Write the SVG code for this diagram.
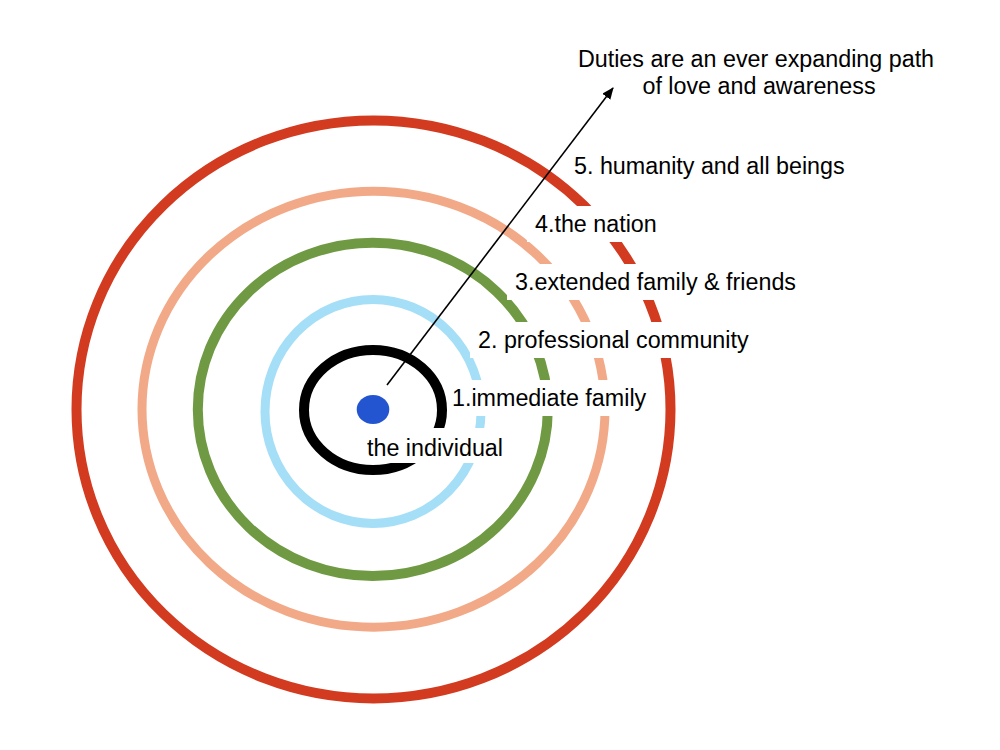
<svg xmlns="http://www.w3.org/2000/svg" width="1000" height="750" viewBox="0 0 1000 750">
<style>
.ring{fill:none}
.lbl{font-family:"Liberation Sans",Arial,Helvetica,sans-serif;font-size:23.3px;fill:#000}
.bg{fill:#fff}
</style>
<defs>
<marker id="ah" viewBox="0 0 12 10" refX="11" refY="5" markerWidth="12" markerHeight="10" markerUnits="userSpaceOnUse" orient="auto">
<path d="M0,0 L12,5 L0,10 z" fill="#000"/>
</marker>
</defs>
<rect width="1000" height="750" fill="#fff"/>
<g id="ring5"><ellipse class="ring" cx="373.5" cy="409.4" rx="297" ry="289" stroke="#D23B20" stroke-width="10"/></g>
<g id="ring4"><ellipse class="ring" cx="373.5" cy="409.2" rx="231.5" ry="218" stroke="#F2A987" stroke-width="9"/></g>
<g id="ring3"><ellipse class="ring" cx="372.8" cy="409.4" rx="175" ry="166.7" stroke="#6F9A43" stroke-width="10"/></g>
<g id="ring2"><ellipse class="ring" cx="373" cy="411.4" rx="108" ry="112" stroke="#A5DEF7" stroke-width="9"/></g>
<g id="ring1"><ellipse class="ring" cx="373" cy="410" rx="69" ry="60" stroke="#000" stroke-width="10"/></g>
<g id="individual"><ellipse cx="373" cy="409.5" rx="16.3" ry="14.5" fill="#2355D0"/></g>
<g id="connectors">
<line x1="387" y1="385" x2="613" y2="88" stroke="#000" stroke-width="1.6" marker-end="url(#ah)"/>
</g>
<g id="label-individual"><rect class="bg" x="357" y="428" width="155" height="35"/><text class="lbl" x="367" y="456">the individual</text></g>
<g id="label-1"><rect class="bg" x="448" y="380" width="205" height="36"/><text class="lbl" x="452" y="406">1.immediate family</text></g>
<g id="label-2"><rect class="bg" x="470" y="322" width="287" height="36"/><text class="lbl" x="478" y="348">2. professional community</text></g>
<g id="label-3"><rect class="bg" x="507" y="264" width="297" height="36"/><text class="lbl" x="515" y="290">3.extended family &amp; friends</text></g>
<g id="label-4"><rect class="bg" x="527" y="206" width="138" height="36"/><text class="lbl" x="535" y="232">4.the nation</text></g>
<g id="label-5"><rect class="bg" x="570" y="148" width="283" height="36"/><text class="lbl" x="574" y="174">5. humanity and all beings</text></g>
<g id="title">
<text class="lbl" x="756" y="67" text-anchor="middle">Duties are an ever expanding path</text>
<text class="lbl" x="759" y="94" text-anchor="middle">of love and awareness</text>
</g>
</svg>
